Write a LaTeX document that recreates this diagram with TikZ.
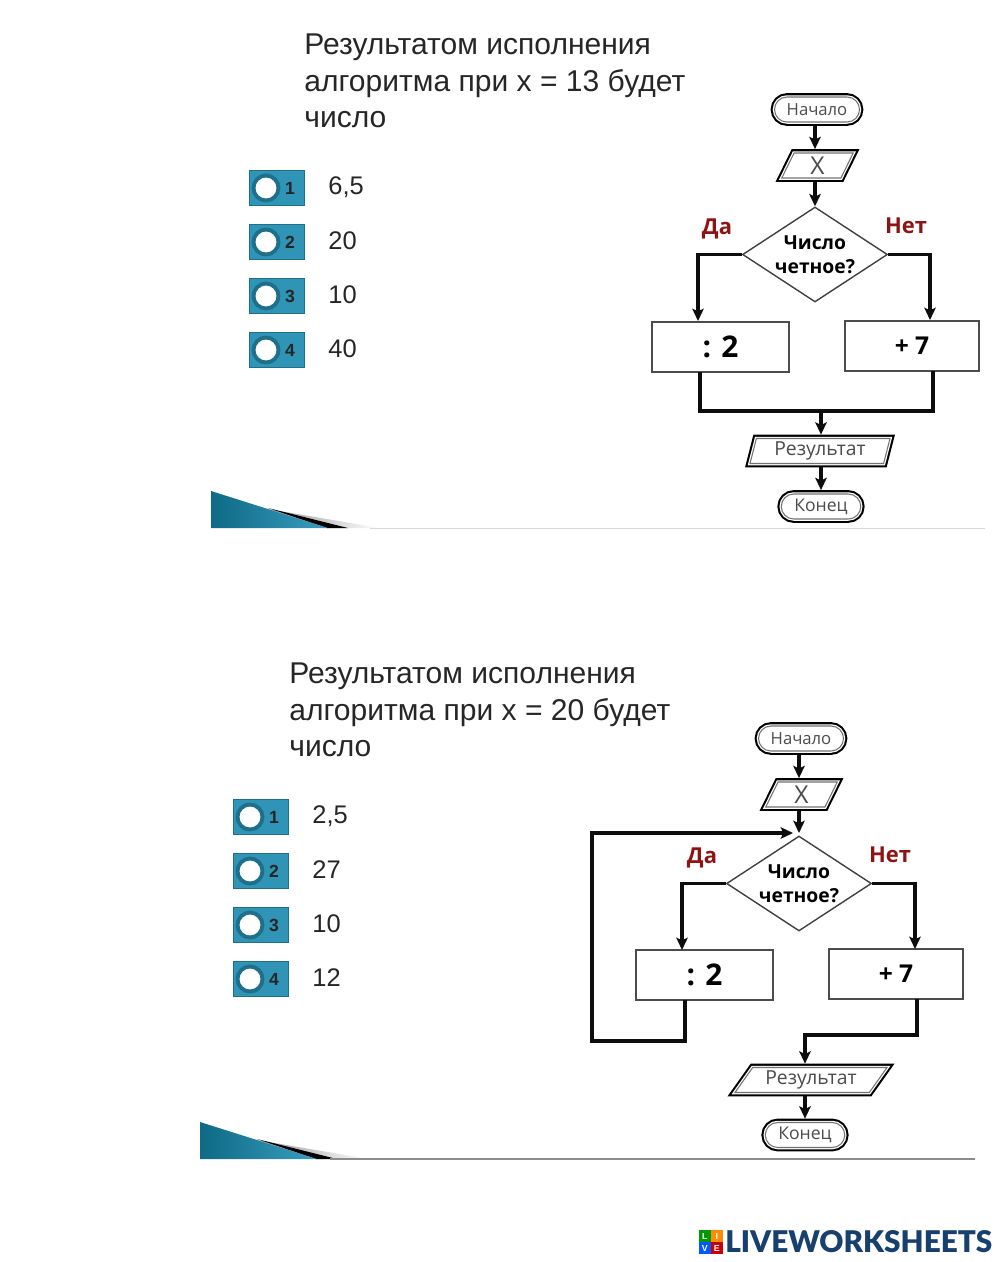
\documentclass[tikz,border=0pt]{standalone}
\usepackage{fontspec}
\setmainfont{Liberation Sans}
\newfontfamily\chartfont{Open Sans}
\newfontfamily\logofont{Lato Black}
\usetikzlibrary{shapes.geometric,shapes.misc,arrows.meta}
\definecolor{btnblue}{HTML}{2F94B5}
\definecolor{btndark}{HTML}{1E6F8A}
\definecolor{wedgedark}{HTML}{0E6A85}
\definecolor{wedgelight}{HTML}{3A9DC0}
\definecolor{answerred}{HTML}{8E1414}
\definecolor{logoblue}{HTML}{17406F}
\tikzset{
  ringed/.style={preaction={draw=black,line width=4.4pt},preaction={draw=white,fill=white,line width=2pt},
    draw=black!55,line width=.6pt,outer sep=2.2pt,inner sep=0pt,text=black!70},
  terminal/.style={rounded rectangle,ringed,minimum height=.5cm},
  inout/.style={trapezium,trapezium stretches=true,ringed,minimum height=.5cm,
    font=\chartfont\fontsize{11}{13}\selectfont},
  decision/.style={diamond,draw=black!75,line width=.8pt,aspect=1.52,inner sep=0pt,minimum width=2.9cm,minimum height=1.9cm,
    align=center,font=\chartfont\bfseries\fontsize{11}{13.5}\selectfont},
  action/.style={rectangle,draw=black!70,line width=.8pt,inner sep=0pt},
  arm/.style={line width=1.8pt,black!95},
  flow/.style={line width=1.8pt,black!95,-{Stealth[length=7pt,width=6.5pt,inset=1.5pt]}},
  branch/.style={font=\chartfont\bfseries\fontsize{12.5}{14}\selectfont,text=answerred},
  heading/.style={anchor=west,align=left,inner sep=0pt,font=\fontsize{17.1}{20.9}\selectfont,text=black!85},
  choice/.style={anchor=west,inner sep=0pt,font=\fontsize{14.5}{17}\selectfont,text=black!85},
  button/.style={rectangle,fill=btnblue,draw=btndark,line width=.5pt,minimum width=1.1cm,minimum height=.7cm,inner sep=0pt},
  radio/.style={circle,fill=white,draw=btndark,line width=2.2pt,minimum size=.5cm,inner sep=0pt},
  btnnum/.style={inner sep=0pt,font=\bfseries\fontsize{10}{12}\selectfont,text=black!85},
  tile/.style={minimum size=.23cm,inner sep=0pt,text=white,font=\bfseries\fontsize{5}{6}\selectfont},
}
\begin{document}
\begin{tikzpicture}[x=.02cm,y=-.02cm]
  \useasboundingbox (0,0) rectangle (1000,1262);
  % slide corners
  \foreach \dx/\dy in {0/0,-11/631}{
    \begin{scope}[shift={(\dx,\dy)}]
      \shade[left color=black!40,right color=white] (268,509)--(380,528)--(327,528)--cycle;
      \fill[black] (268,508)--(348,528)--(327,528)--cycle;
      \shade[left color=wedgedark,right color=wedgelight] (211,491)--(328,528)--(211,528)--cycle;
    \end{scope}
  }
  \draw[black!15,line width=.4pt] (370,528)--(985,528);
  \draw[black!45,line width=.6pt] (330,1159)--(975,1159);
  % questions
  \node[heading] (textA) at (304,81) {Результатом исполнения\\алгоритма при x = 13 будет\\число};
  \node[heading] (textB) at (289,710) {Результатом исполнения\\алгоритма при x = 20 будет\\число};
  % answer buttons
  \foreach \n/\ya/\va/\vb in {1/0/{6,5}/{2,5},2/54/20/27,3/108/10/10,4/162/40/12}{
    \node[button] (btnA\n) at (277,188+\ya) {};
    \node[radio] (radA\n) at (266,188+\ya) {};
    \node[btnnum] (numA\n) at (290,188+\ya) {\n};
    \node[choice] (ansA\n) at (328,187+\ya) {\va};
    \node[button] (btnB\n) at (261,817+\ya) {};
    \node[radio] (radB\n) at (250,817+\ya) {};
    \node[btnnum] (numB\n) at (274,817+\ya) {\n};
    \node[choice] (ansB\n) at (312,816+\ya) {\vb};
  }
  % first chart
  \node[terminal,minimum width=1.7cm,font=\chartfont\fontsize{9.5}{12}\selectfont] (startA) at (817,109.5) {Начало};
  \node[inout,trapezium left angle=78,trapezium right angle=102,minimum width=1.43cm,font=\chartfont\fontsize{14}{16}\selectfont] (inA) at (817.5,165.5) {Х};
  \node[decision] (askA) at (815,254.5) {Число\\четное?};
  \node[action,minimum width=2.74cm,minimum height=1cm,font=\chartfont\bfseries\fontsize{17}{19}\selectfont] (halfA) at (720.5,347) {: 2};
  \node[action,minimum width=2.68cm,minimum height=1cm,font=\chartfont\bfseries\fontsize{14}{16}\selectfont] (addA) at (912,346) {+ 7};
  \node[inout,trapezium left angle=76,trapezium right angle=104,minimum width=2.81cm] (resA) at (820,451) {Результат};
  \node[terminal,minimum width=1.59cm,font=\chartfont\fontsize{10}{12}\selectfont] (endA) at (821,506.5) {Конец};
  \node[branch] (yesA) at (717,229) {Да};
  \node[branch] (noA) at (906,226) {Нет};
  \coordinate (yesinA) at (698,321);
  \coordinate (noinA) at (930,320);
  \coordinate (halfoutA) at (700,372);
  \coordinate (addoutA) at (933,371);
  \coordinate (joinA) at (821,411);
  \draw[flow] (startA.south-|askA)--(inA.north-|askA);
  \draw[flow] (inA.south-|askA)--(askA.north);
  \draw[flow] (askA.west)-|(yesinA);
  \draw[flow] (askA.east)-|(noinA);
  \draw[arm] (halfoutA)|-(joinA)-|(addoutA);
  \draw[flow] (joinA)--(resA.north-|joinA);
  \draw[flow] (resA.south-|endA)--(endA.north);
  % second chart
  \node[terminal,minimum width=1.7cm,font=\chartfont\fontsize{9.5}{12}\selectfont] (startB) at (801,738.5) {Начало};
  \node[inout,trapezium left angle=78,trapezium right angle=102,minimum width=1.43cm,font=\chartfont\fontsize{14}{16}\selectfont] (inB) at (801.5,794.5) {Х};
  \node[decision] (askB) at (799,883.5) {Число\\четное?};
  \node[action,minimum width=2.74cm,minimum height=1cm,font=\chartfont\bfseries\fontsize{17}{19}\selectfont] (halfB) at (704.5,975) {: 2};
  \node[action,minimum width=2.68cm,minimum height=1cm,font=\chartfont\bfseries\fontsize{14}{16}\selectfont] (addB) at (896,974) {+ 7};
  \node[inout,trapezium left angle=53,trapezium right angle=127,minimum width=3.05cm] (resB) at (811,1080) {Результат};
  \node[terminal,minimum width=1.59cm,font=\chartfont\fontsize{10}{12}\selectfont] (endB) at (805,1135) {Конец};
  \node[branch] (yesB) at (702,858) {Да};
  \node[branch] (noB) at (890,855) {Нет};
  \coordinate (yesinB) at (682,950);
  \coordinate (noinB) at (915,949);
  \coordinate (halfoutB) at (685,1000);
  \coordinate (backB) at (592,1041);
  \coordinate (loopB) at (793,833);
  \coordinate (addoutB) at (917,999);
  \coordinate (joinB) at (805,1035);
  \draw[flow] (startB.south-|askB)--(inB.north-|askB);
  \draw[flow] (inB.south-|askB)--(askB.north|-loopB);
  \draw[flow] (askB.west)-|(yesinB);
  \draw[flow] (askB.east)-|(noinB);
  \draw[flow] (halfoutB)|-(backB)--(backB|-loopB)--(loopB);
  \draw[flow] (addoutB)|-(joinB)--(joinB|-resB.north);
  \draw[flow] (endB.north|-resB.south)--(endB.north);
  % logo
  \node[tile,fill=green!60!black] (tileL) at (704.8,1236) {L};
  \node[tile,fill=orange!90!yellow] (tileI) at (716.8,1236) {I};
  \node[tile,fill=blue!65!cyan] (tileV) at (704.8,1248) {V};
  \node[tile,fill=red!80!black] (tileE) at (716.8,1248) {E};
  \node[anchor=west,inner sep=0pt,text=logoblue] (logo) at (725,1241.5) {\resizebox{5.34cm}{.44cm}{\logofont LIVEWORKSHEETS}};
\end{tikzpicture}
\end{document}
